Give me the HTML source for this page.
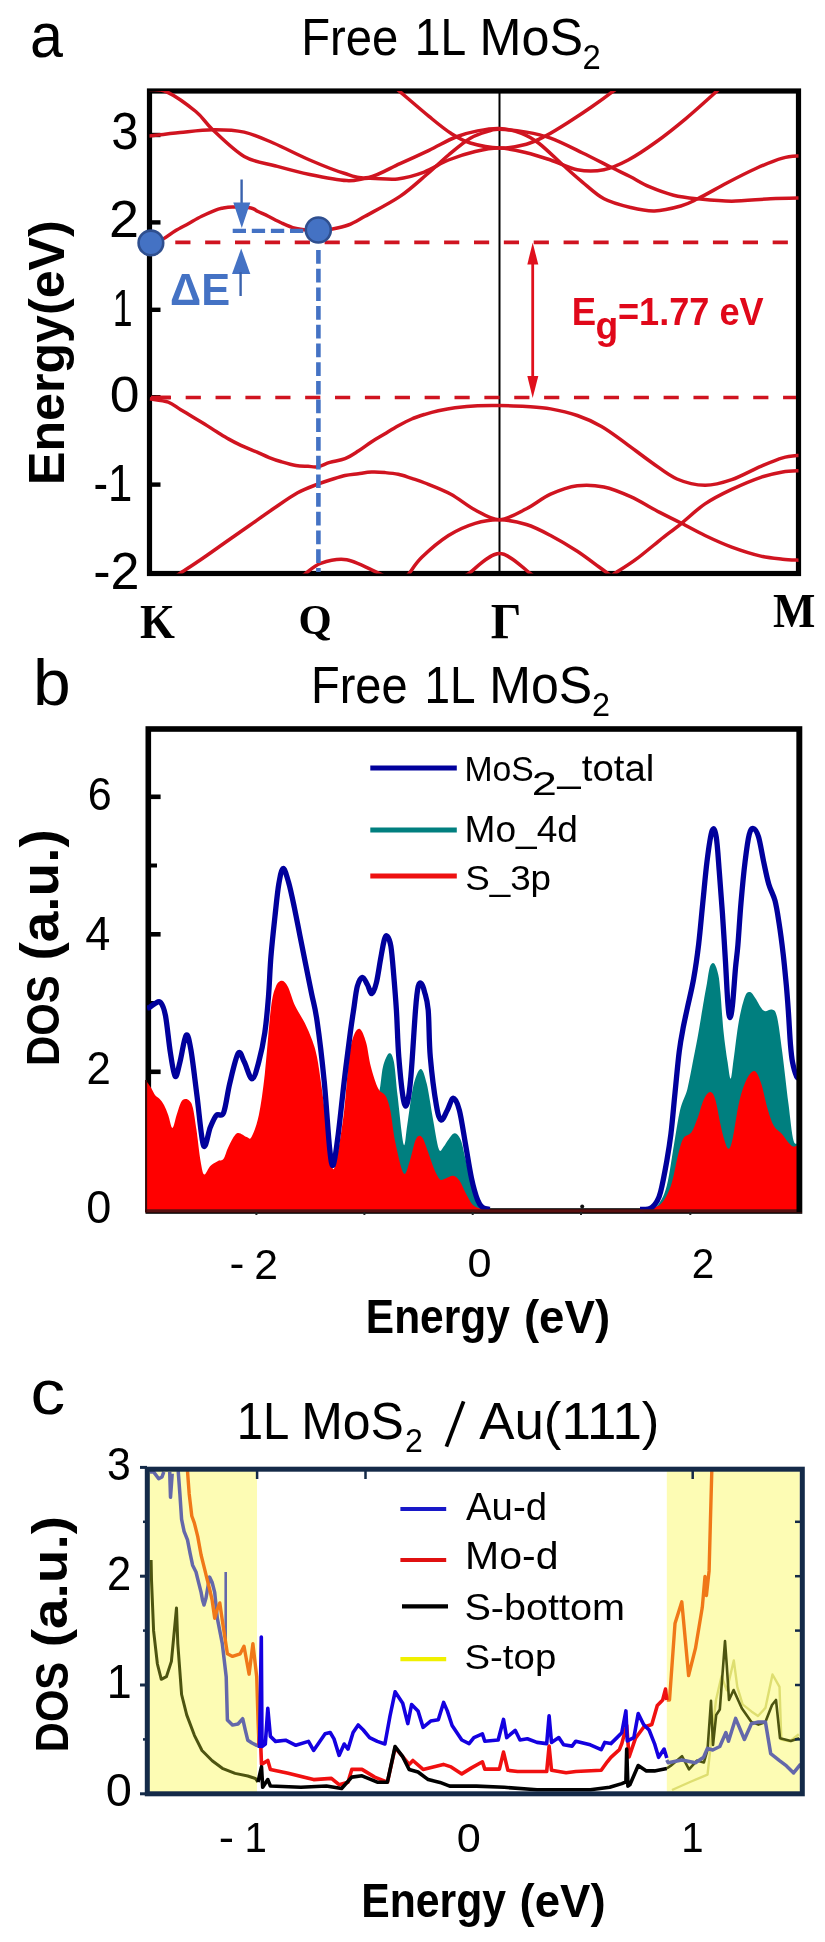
<!DOCTYPE html>
<html><head><meta charset="utf-8"><style>
html,body{margin:0;padding:0;background:#fff;width:825px;height:1942px;overflow:hidden}
svg{display:block;will-change:transform}
</style></head><body>
<svg width="825" height="1942" viewBox="0 0 825 1942">
<rect width="825" height="1942" fill="#fff"/>
<defs><clipPath id="ca"><rect x="152" y="93.5" width="644" height="477.5"/></clipPath><clipPath id="ca2"><rect x="149.5" y="91" width="649" height="482.5"/></clipPath><clipPath id="cb"><rect x="147" y="731" width="650" height="482"/></clipPath><clipPath id="cc"><rect x="149" y="1471" width="651" height="321"/></clipPath></defs>
<rect x="149.5" y="91" width="649" height="482.5" fill="none" stroke="#000" stroke-width="5.2"/>
<line x1="150" y1="135" x2="160.5" y2="135" stroke="#000" stroke-width="4.4"/>
<line x1="150" y1="222.4" x2="160.5" y2="222.4" stroke="#000" stroke-width="4.4"/>
<line x1="150" y1="309.8" x2="160.5" y2="309.8" stroke="#000" stroke-width="4.4"/>
<line x1="150" y1="397.2" x2="160.5" y2="397.2" stroke="#000" stroke-width="4.4"/>
<line x1="150" y1="484.6" x2="160.5" y2="484.6" stroke="#000" stroke-width="4.4"/>
<line x1="499.5" y1="92" x2="499.5" y2="573" stroke="#000" stroke-width="2"/>
<line x1="145.4" y1="242.4" x2="797" y2="242.4" stroke="#d01420" stroke-width="3.6" stroke-dasharray="15.2 14.67" clip-path="url(#ca)"/>
<line x1="155.8" y1="397.5" x2="797" y2="397.5" stroke="#d01420" stroke-width="3.6" stroke-dasharray="15.2 14.67" clip-path="url(#ca)"/>
<line x1="151" y1="397.5" x2="170.5" y2="397.5" stroke="#d01420" stroke-width="3.6"/>
<g fill="none" stroke="#d01420" stroke-width="3.5" stroke-linejoin="round" clip-path="url(#ca2)">
<path d="M151,242.4 C153,241.8 159,240.9 163,239 C167,237.1 170.8,233.6 175,231 C179.2,228.4 183.9,226.1 188.3,223.7 C192.8,221.2 197.2,218.5 201.7,216.3 C206.1,214.1 211.7,211.6 215,210.3 C218.3,209 218.8,208.9 221.7,208.3 C224.6,207.8 227.4,207.1 232.3,207 C237.2,206.9 246.7,207.2 251,208 C255.3,208.8 255.1,210.1 258,211.5 C260.9,212.9 264.4,214.4 268.3,216.3 C272.2,218.2 277.2,221 281.7,223 C286.1,225 290.6,227.1 295,228.3 C299.4,229.5 304.1,229.9 308,230.2 C311.9,230.5 314.2,230.5 318.3,230.3 C322.4,230.1 327.3,229.9 332.3,229 C337.3,228.1 342.9,227.1 348.3,225 C353.8,222.9 356.4,221.1 365,216.3 C373.6,211.5 389.7,203.4 400,196.4 C410.3,189.4 418.6,181.4 426.7,174.5 C434.8,167.6 441.2,161.1 448.5,155 C455.8,148.9 463.4,142.2 470.3,138.2 C477.2,134.2 484.8,132.4 489.7,130.9 C494.6,129.4 493.4,129 499.5,129.2 C505.6,129.4 517.9,130.6 526.4,132.1 C534.9,133.6 541.3,134.8 550.6,138.2 C559.9,141.6 572,147.8 582.1,152.7 C592.2,157.5 603.2,163.3 611.2,167.3 C619.2,171.3 623.7,173.3 630,176.5 C636.3,179.7 642,183.6 649.2,186.7 C656.5,189.8 665.4,193.2 673.5,195.2 C681.6,197.2 688,197.8 697.7,198.8 C707.4,199.8 719.6,201.2 731.7,201.2 C743.8,201.2 759.1,199.3 770.5,198.8 C781.9,198.3 795.1,198.1 800,198"/>
<path d="M148,136.2 C153.3,135.6 169.2,133.6 180,132.5 C190.8,131.4 202,129.8 212.7,129.7 C223.4,129.6 234.1,129.9 244.2,132.1 C254.3,134.3 262.4,138.3 273.3,143 C284.2,147.7 297.9,154.9 309.7,160 C321.5,165.1 334.4,170.4 344.2,173.3 C354,176.2 359.2,179.1 368.5,177.5 C377.8,175.9 389.9,168.1 400,163.6 C410.1,159.1 419.7,154.7 429,150.3 C438.3,145.9 447.7,140.2 455.8,137 C463.9,133.8 470.3,132.3 477.6,130.9 C484.9,129.5 492.2,128.1 499.5,128.5 C506.8,128.9 515,130.9 521.5,133.3 C528,135.7 531.6,137.8 538.5,143 C545.4,148.2 555.4,158.3 562.7,164.8 C570,171.3 575.2,176.1 582.1,181.8 C589,187.5 595.9,194.5 604,198.8 C612.1,203.1 622.2,205.5 630.6,207.5 C639,209.5 646.1,211.2 654.5,210.9 C662.9,210.7 673.6,208 680.8,206 C688,204 690,202.6 697.7,198.8 C705.4,195 717.1,188.1 726.8,183 C736.5,177.9 746.6,172.7 755.9,168.5 C765.2,164.3 775.2,160.2 782.6,158.1 C790,156 797.1,156.2 800,155.8"/>
<path d="M148,89.5 C151.1,89.9 158.7,88.1 166.7,91.8 C174.7,95.5 188.1,105.2 195.8,111.5 C203.5,117.8 204.6,122.2 212.7,129.7 C220.8,137.2 233.7,150.3 244.2,156.4 C254.7,162.5 264.9,163 275.8,166 C286.7,169 297.9,172.1 309.7,174.5 C321.5,176.9 336.9,180 346.7,180.6 C356.5,181.2 360,178.5 368.5,178.2 C377,177.9 388.3,179.9 397.6,178.9 C406.9,177.9 415.7,175.2 424.2,172.1 C432.7,168.9 440,163.4 448.5,160 C457,156.6 466.7,153.5 475.2,151.5 C483.7,149.5 491,147.8 499.5,148 C508,148.2 517.9,150.7 526.4,152.7 C534.9,154.7 542.1,157.2 550.6,160 C559.1,162.8 568.4,168.1 577.3,169.7 C586.2,171.3 595.4,171.3 603.9,169.7 C612.4,168.1 619.5,164.6 628.2,160 C636.9,155.4 646.4,148.9 656,142 C665.6,135.1 675.4,127.3 685.6,118.8 C695.8,110.3 711,96.4 717.1,90.9 C723.2,85.4 721.2,86.8 722,86"/>
<path d="M392,85 C392.9,85.8 391.4,84.5 397.6,89.7 C403.8,94.9 420.1,109.1 429,116.4 C437.9,123.7 444,128.9 450.9,133.3 C457.8,137.7 462.2,140.6 470.3,143 C478.4,145.4 490.1,147.8 499.5,148 C508.9,148.2 518.7,146.2 526.4,144.2 C534.1,142.2 538.5,139.6 545.8,135.8 C553.1,132 562.3,126.1 570,121.2 C577.7,116.3 584.5,111.8 591.8,106.7 C599.1,101.7 609.1,94.4 613.6,90.9 C618.1,87.5 618.1,86.8 619,86"/>
<path d="M149.7,398.8 C152.8,399.4 163.1,400.3 168.2,402.1 C173.3,403.9 176.3,407 180.3,409.4 C184.3,411.8 188.4,414.3 192.4,416.7 C196.4,419.1 200.4,421.4 204.5,423.9 C208.6,426.4 212.6,429.3 216.7,431.8 C220.8,434.3 224.8,436.9 228.8,439.1 C232.8,441.4 236.2,443.1 240.9,445.3 C245.6,447.5 252.4,450.1 257.1,452.1 C261.8,454.2 265.1,456 269.2,457.6 C273.2,459.2 276.9,460.5 281.4,461.8 C285.8,463.1 291.5,464.8 295.9,465.5 C300.3,466.2 304.4,466.1 308,466.3 C311.6,466.5 314.1,467.4 317.7,466.7 C321.3,466 325.2,463.8 329.8,462.4 C334.4,461 340.2,460.5 345,458.6 C349.8,456.7 353.9,453.8 358.3,451 C362.8,448.2 367.2,444.6 371.7,441.7 C376.1,438.8 380.6,436.4 385,433.7 C389.4,431 393.9,428.1 398.3,425.7 C402.8,423.2 407.2,420.9 411.7,419 C416.1,417.1 420.6,415.7 425,414.3 C429.4,412.9 433.3,411.8 438.3,410.7 C443.3,409.6 448.4,408.5 455,407.7 C461.6,406.9 470.2,406.1 477.6,405.8 C485,405.5 491.4,405.5 499.5,405.6 C507.6,405.7 517.9,405.9 526.4,406.5 C534.9,407.1 542.1,407.4 550.6,408.9 C559.1,410.4 568.8,412.6 577.3,415.5 C585.8,418.4 593.4,421.8 601.5,426.4 C609.6,431 617.4,437.2 625.8,443.3 C634.2,449.4 643.5,456.8 652,462.7 C660.5,468.6 668.2,475.2 677,479 C685.8,482.8 695.9,485.2 705,485.3 C714.1,485.4 722.4,482.9 731.7,479.7 C741,476.5 752.3,470 760.8,466.4 C769.3,462.8 776.1,459.8 782.6,457.9 C789.1,456 797.1,455.7 800,455.3"/>
<path d="M174,578 C174.8,577.4 174.4,577.2 178.8,574.2 C183.2,571.2 192.9,565 200.6,559.7 C208.3,554.5 216.7,548.4 224.8,542.7 C232.9,537.1 241,531.4 249.1,525.8 C257.2,520.1 265.2,514.3 273.3,508.8 C281.4,503.3 290.2,496.9 297.6,492.8 C305,488.7 312.3,486.3 317.7,484.2 C323.1,482.1 325.2,481.4 329.8,480 C334.4,478.6 340.2,476.6 345,475.5 C349.8,474.4 353.9,474.3 358.3,473.7 C362.8,473.1 367.2,472.3 371.7,472.1 C376.1,471.9 380.6,472.2 385,472.6 C389.4,473 393.9,473.4 398.3,474.3 C402.8,475.2 407.2,476.9 411.7,478.3 C416.1,479.8 418.5,480.4 425,483 C431.5,485.6 442.5,489.7 450.9,494.2 C459.3,498.7 467.1,505.8 475.2,510 C483.3,514.2 491,519.9 499.5,519.7 C508,519.5 517.9,513.1 526.4,508.8 C534.9,504.6 542.1,498 550.6,494.2 C559.1,490.4 568.4,487 577.3,485.8 C586.2,484.6 595,485.2 603.9,487 C612.8,488.8 621.3,492.5 630.6,496.7 C639.9,500.9 651.2,508 659.7,512.4 C668.2,516.8 674,519.4 681.5,523.3 C689,527.1 696.6,531.5 705,535.5 C713.4,539.5 722.4,543.7 731.7,547.1 C741,550.5 752.3,554.1 760.8,556.1 C769.3,558.1 776.1,558.5 782.6,559.2 C789.1,559.9 797.1,560 800,560.2"/>
<path d="M404,578 C404.8,577.4 405.5,577.7 408.5,574.2 C411.5,570.8 415.1,563.8 421.8,557.3 C428.5,550.8 439.6,541.2 448.5,535.5 C457.4,529.8 466.7,525.9 475.2,523.3 C483.7,520.7 491,519.5 499.5,519.7 C508,519.9 517.9,521.9 526.4,524.5 C534.9,527.1 542.1,531 550.6,535.5 C559.1,540 569.2,546 577.3,551.2 C585.4,556.5 593.9,563.2 599.1,567 C604.4,570.8 606.5,572.4 608.8,574.2 C611.1,576 612.3,577.4 613,578"/>
<path d="M609,578 C609.8,577.4 609.2,577.2 613.6,574.2 C618,571.2 627.8,565.4 635.5,559.7 C643.2,554.1 652,546.4 659.7,540.3 C667.4,534.2 674,529.4 681.5,523.3 C689,517.2 696.6,509.5 705,503.9 C713.4,498.2 722.4,493.8 731.7,489.4 C741,485 752.3,480.2 760.8,477.3 C769.3,474.4 776.1,473 782.6,471.9 C789.1,470.8 797.1,470.8 800,470.6"/>
<path d="M299,578 C300,577.4 301.2,576.7 304.8,574.2 C308.4,571.8 313.6,565.7 320.6,563.3 C327.6,560.9 336.7,557.9 346.7,559.7 C356.7,561.5 374.1,571.2 380.6,574.2 C387.2,577.2 385.1,577.4 386,578"/>
<path d="M462,578 C463,577.4 461.6,578.3 467.9,574.2 C474.1,570.1 488.9,553.6 499.5,553.6 C510.1,553.6 525.1,570.1 531.2,574.2 C537.3,578.3 535.2,577.4 536,578"/>
</g>
<line x1="318.4" y1="250" x2="318.4" y2="572" stroke="#4472c4" stroke-width="4.6" stroke-dasharray="13.7 5"/>
<line x1="232.7" y1="230.8" x2="306" y2="230.8" stroke="#4472c4" stroke-width="4.2" stroke-dasharray="13.3 5.8"/>
<line x1="241.6" y1="179.5" x2="241.6" y2="205" stroke="#3a62ad" stroke-width="2.4"/>
<path d="M233.3,202.4 L250.3,202.4 L241.8,228 Z" fill="#4472c4"/>
<path d="M232,274 L250.3,274 L241.2,248.5 Z" fill="#4472c4"/>
<line x1="240.6" y1="272" x2="240.6" y2="296" stroke="#3a62ad" stroke-width="2.4"/>
<circle cx="150.9" cy="242.9" r="12.3" fill="#4472c4" stroke="#2f4f8f" stroke-width="2.6"/>
<circle cx="318.3" cy="230" r="12.5" fill="#4472c4" stroke="#2f4f8f" stroke-width="2.6"/>
<line x1="532.7" y1="255" x2="532.7" y2="385" stroke="#e0101c" stroke-width="2.8"/>
<path d="M527.3,264.5 L538.3,264.5 L532.7,242.7 Z" fill="#e0101c"/>
<path d="M527.3,376 L538.3,376 L532.7,398 Z" fill="#e0101c"/>
<text transform="translate(30.07,56.77) scale(0.94,1)" font-family="Liberation Sans" font-weight="normal" font-size="63.01" fill="#000">a</text>
<text transform="translate(301.22,54.7) scale(0.91,1)" font-family="Liberation Sans" font-weight="normal" font-size="51.93" fill="#000">Free</text>
<text transform="translate(414.74,54.7) scale(0.89,1)" font-family="Liberation Sans" font-weight="normal" font-size="51.93" fill="#000">1L</text>
<text transform="translate(479.45,54.7) scale(0.97,1)" font-family="Liberation Sans" font-weight="normal" font-size="51.93" fill="#000">MoS</text>
<text transform="translate(582.46,68.5) scale(0.95,1)" font-family="Liberation Sans" font-weight="normal" font-size="34.55" fill="#000">2</text>
<text transform="translate(111.27,149.18) scale(0.95,1)" font-family="Liberation Sans" font-weight="normal" font-size="51.59" fill="#000">3</text>
<text transform="translate(109.1,237.3) scale(1.06,1)" font-family="Liberation Sans" font-weight="normal" font-size="50.9" fill="#000">2</text>
<text transform="translate(112.81,325.5) scale(0.69,1)" font-family="Liberation Sans" font-weight="normal" font-size="51.64" fill="#000">1</text>
<text transform="translate(109.66,412.2) scale(1.07,1)" font-family="Liberation Sans" font-weight="normal" font-size="50.04" fill="#000">0</text>
<text transform="translate(93.52,501) scale(0.84,1)" font-family="Liberation Sans" font-weight="normal" font-size="52.07" fill="#000">-1</text>
<text transform="translate(93.16,588.8) scale(1,1)" font-family="Liberation Sans" font-weight="normal" font-size="52.04" fill="#000">-2</text>
<text transform="translate(63.95,484.99) rotate(-90) scale(1,1)" font-family="Liberation Sans" font-weight="bold" font-size="50.13" fill="#000">Energy(eV)</text>
<text transform="translate(140.11,637.5) scale(0.93,1)" font-family="Liberation Serif" font-weight="bold" font-size="48.24" fill="#000">K</text>
<text transform="translate(298.46,634.49) scale(0.99,1)" font-family="Liberation Serif" font-weight="bold" font-size="43.15" fill="#000">Q</text>
<text transform="translate(490.66,638) scale(0.97,1)" font-family="Liberation Serif" font-weight="bold" font-size="49.62" fill="#000">Γ</text>
<text transform="translate(772.91,627.2) scale(0.94,1)" font-family="Liberation Serif" font-weight="bold" font-size="47.79" fill="#000">M</text>
<text transform="translate(170.07,304.5) scale(0.99,1)" font-family="Liberation Sans" font-weight="bold" font-size="43.78" fill="#4472c4">ΔE</text>
<text transform="translate(571.63,325.2) scale(0.92,1)" font-family="Liberation Sans" font-weight="bold" font-size="39.71" fill="#e0081a">E</text>
<text transform="translate(595.62,338.58) scale(0.94,1)" font-family="Liberation Sans" font-weight="bold" font-size="39.6" fill="#e0081a">g</text>
<text transform="translate(617.96,325.2) scale(0.91,1)" font-family="Liberation Sans" font-weight="bold" font-size="39.71" fill="#e0081a">=1.77 eV</text>
<rect x="148.3" y="729" width="651.2" height="482" fill="none" stroke="#000" stroke-width="5.6"/>
<line x1="150" y1="796.8" x2="160.6" y2="796.8" stroke="#000" stroke-width="4.6"/>
<line x1="150" y1="934.3" x2="160.6" y2="934.3" stroke="#000" stroke-width="4.6"/>
<line x1="150" y1="1071.8" x2="160.6" y2="1071.8" stroke="#000" stroke-width="4.6"/>
<line x1="150" y1="865.5" x2="157" y2="865.5" stroke="#000" stroke-width="4"/>
<line x1="150" y1="1003" x2="157" y2="1003" stroke="#000" stroke-width="4"/>
<g clip-path="url(#cb)">
<path d="M374,1100 C374.9,1098.5 377.9,1096.5 379.4,1090.9 C380.9,1085.4 381.4,1073 383,1066.7 C384.6,1060.4 387.3,1054.1 389.1,1053.3 C390.9,1052.5 392.5,1054.7 393.9,1061.8 C395.3,1068.9 396,1082.1 397.6,1095.8 C399.2,1109.5 402,1139.4 403.6,1144.2 C405.2,1149 405.7,1134.5 407.3,1124.8 C408.9,1115.1 411.1,1095.4 413.3,1086.1 C415.5,1076.8 418.4,1069.5 420.6,1069.1 C422.8,1068.7 424.7,1075.5 426.7,1083.6 C428.7,1091.7 430.7,1106.7 432.7,1117.6 C434.7,1128.5 437,1144.2 438.8,1149.1 C440.6,1153.9 442,1148.3 443.6,1146.7 C445.2,1145.1 446.7,1141.6 448.5,1139.4 C450.3,1137.2 452.5,1133.3 454.5,1133.3 C456.5,1133.3 458.8,1135.2 460.6,1139.4 C462.4,1143.7 463.7,1151.5 465.5,1158.8 C467.3,1166.1 469.5,1176.1 471.5,1183 C473.5,1189.9 475.8,1196.2 477.6,1200 C479.4,1203.8 480.8,1204.6 482.4,1206.1 C484,1207.6 486.2,1208.5 487,1209 L487,1211 L374,1211 Z" fill="#007f7f"/>
<path d="M650,1210 C651.4,1209 655.7,1208.3 658.5,1204.3 C661.3,1200.3 664.2,1195.8 666.8,1185.8 C669.4,1175.8 671.8,1157.2 674,1144.5 C676.2,1131.8 678,1118.8 680.2,1109.5 C682.4,1100.2 685.2,1097.5 687.4,1088.9 C689.6,1080.3 691.7,1067.6 693.6,1058 C695.5,1048.4 697,1040.8 698.7,1031.2 C700.4,1021.6 702.5,1008.3 703.9,1000.3 C705.3,992.3 706,988.6 707,983 C708,977.4 708.8,969.9 710,966.6 C711.2,963.4 712.8,962.1 714.2,963.5 C715.6,964.9 717.3,970 718.3,974.8 C719.3,979.5 719.5,982.6 720.4,992 C721.3,1001.4 722.3,1019.5 723.5,1031.2 C724.7,1042.9 726.4,1054.2 727.6,1062.1 C728.8,1070 729.7,1079.3 730.7,1078.6 C731.7,1077.9 732.4,1067.6 733.8,1058 C735.2,1048.4 737,1031.2 738.9,1020.9 C740.8,1010.6 743.2,1001 745.1,996.2 C747,991.4 748.5,991.8 750.2,992.1 C751.9,992.4 753.2,995.1 755.4,998.2 C757.6,1001.3 760.9,1008.7 763.6,1010.6 C766.4,1012.5 769.7,1008.6 771.9,1009.6 C774.1,1010.6 775.3,1009.8 777,1016.8 C778.7,1023.8 780.3,1037.4 782.2,1051.8 C784.1,1066.2 786.5,1088.5 788.4,1103.3 C790.3,1118.1 791.7,1133.9 793.5,1140.4 C795.3,1146.9 798.1,1142.2 799,1142.5 L799,1211 L650,1211 Z" fill="#007f7f"/>
<path d="M147,1082 C147.7,1083 149.8,1085.7 151.2,1088 C152.6,1090.3 154,1093.8 155.4,1095.6 C156.8,1097.4 158.3,1097.4 159.7,1099 C161.1,1100.6 162.6,1102.3 164,1105 C165.4,1107.7 166.8,1111.2 168.2,1115 C169.6,1118.8 171,1127.9 172.4,1127.9 C173.8,1127.9 175.2,1119.2 176.6,1115 C178,1110.8 179.5,1105.1 180.9,1102.4 C182.3,1099.7 183.7,1099.3 185.1,1099 C186.5,1098.7 188.1,1099.3 189.4,1100.7 C190.7,1102.1 191.6,1102.6 192.8,1107.5 C194,1112.4 195.2,1121 196.5,1130 C197.8,1139 199.3,1153.8 200.6,1161.2 C201.9,1168.6 202.6,1173.7 204.2,1174.5 C205.8,1175.3 208.1,1168.3 210.3,1166.1 C212.5,1163.9 215.4,1162.4 217.6,1161.2 C219.8,1160 221.8,1161.2 223.6,1158.8 C225.4,1156.4 226.3,1151 228.5,1146.7 C230.7,1142.5 234,1134.9 237,1133.3 C240,1131.7 244.3,1136.4 246.7,1137 C249.1,1137.6 249.5,1140.6 251.5,1137 C253.5,1133.4 256.6,1125.7 258.8,1115.2 C261,1104.7 262.8,1091.7 264.8,1073.9 C266.8,1056.1 269.1,1023 270.9,1008.5 C272.7,994 274,991.3 275.8,986.7 C277.6,982.1 279.8,980.8 281.8,980.8 C283.8,980.8 285.7,982.5 287.9,986.7 C290.1,990.9 292.4,1000.1 295.2,1006.1 C298,1012.1 302,1017.4 304.8,1023 C307.6,1028.7 310.1,1034.3 312.1,1040 C314.1,1045.7 315.4,1048.9 317,1057 C318.6,1065.1 320,1075.6 321.8,1088.5 C323.6,1101.4 326.1,1121.2 327.9,1134.5 C329.7,1147.8 331.1,1165.3 332.7,1168.5 C334.3,1171.7 335.7,1163.6 337.6,1153.9 C339.5,1144.2 342.3,1126.5 344.2,1110.3 C346.1,1094.1 347.5,1069.5 349.1,1057 C350.7,1044.5 352.1,1039.9 353.9,1035.2 C355.7,1030.5 358,1027.9 360,1029.1 C362,1030.3 364.3,1036.1 366.1,1042.4 C367.9,1048.7 368.9,1059 370.9,1066.7 C372.9,1074.4 375.8,1083.7 378.2,1088.5 C380.6,1093.3 383.5,1092.2 385.5,1095.8 C387.5,1099.4 388.7,1102.6 390.3,1110.3 C391.9,1118 393,1131.3 395.2,1141.8 C397.4,1152.3 401.2,1170.1 403.6,1173.3 C406,1176.5 407.7,1166.8 409.7,1161.2 C411.7,1155.6 413.8,1143.4 415.8,1139.4 C417.8,1135.4 419.8,1135 421.8,1137 C423.8,1139 425.9,1146.2 427.9,1151.5 C429.9,1156.8 431.9,1163.8 433.9,1168.5 C435.9,1173.2 438,1177.8 440,1179.4 C442,1181 443.9,1178.8 446.1,1178.2 C448.3,1177.6 451.1,1175.4 453.3,1175.8 C455.5,1176.2 457.4,1177.8 459.4,1180.6 C461.4,1183.4 463.3,1188.7 465.5,1192.7 C467.7,1196.7 470.3,1202.2 472.7,1204.8 C475.1,1207.4 477.8,1207.7 480,1208.5 C482.2,1209.3 485,1209.3 486,1209.5 L486,1211 L147,1211 Z" fill="#ff0000"/>
<path d="M645,1210 C645.5,1209.7 645.6,1209.4 648.2,1208.4 C650.8,1207.5 656.8,1208.1 660.6,1204.3 C664.4,1200.5 668,1194 670.9,1185.8 C673.8,1177.5 676,1162.7 678.1,1154.8 C680.2,1146.9 681.1,1142.2 683.3,1138.4 C685.5,1134.6 689.1,1135.6 691.5,1132.2 C693.9,1128.8 695.6,1123.3 697.7,1117.8 C699.8,1112.3 701.8,1103.5 703.9,1099.2 C706,1094.9 708.2,1092 710.1,1092 C712,1092 713.5,1093.9 715.2,1099.2 C716.9,1104.5 718.9,1117.1 720.4,1124 C721.9,1130.9 723.1,1136.3 724.5,1140.4 C725.9,1144.5 727.2,1149 728.6,1148.7 C730,1148.4 731,1146 732.7,1138.4 C734.4,1130.8 736.8,1112.6 738.9,1103.3 C741,1094 743,1087.8 745.1,1082.7 C747.2,1077.6 749.4,1074.1 751.3,1072.4 C753.2,1070.7 754.7,1070.3 756.4,1072.4 C758.1,1074.5 759.7,1078.6 761.6,1084.8 C763.5,1091 765.8,1102.6 767.8,1109.5 C769.8,1116.4 771.5,1121.9 773.9,1126 C776.3,1130.1 779.8,1131.5 782.2,1134.2 C784.6,1137 786.5,1140.4 788.4,1142.5 C790.3,1144.6 791.7,1146.3 793.5,1146.6 C795.3,1146.9 798.1,1144.8 799,1144.5 L799,1211 L645,1211 Z" fill="#ff0000"/>
<path d="M147,1008 C147.4,1007.9 148.4,1008 149.7,1007.3 C151,1006.5 153.2,1004.3 155,1003.5 C156.8,1002.7 158.8,1000.4 160.6,1002.4 C162.3,1004.4 163.9,1007.5 165.5,1015.8 C167.1,1024.1 168.7,1042 170.3,1052.1 C171.9,1062.2 173.6,1074.8 175.2,1076.4 C176.8,1078 178.2,1068.7 180,1061.8 C181.8,1054.9 184.3,1037.2 186.1,1035.2 C187.9,1033.2 189.1,1039.6 190.9,1049.7 C192.7,1059.8 194.9,1079.8 197,1095.8 C199.1,1111.8 201.3,1140.2 203.5,1145.5 C205.7,1150.8 208.2,1132.3 210.3,1127.3 C212.5,1122.2 214.2,1117.6 216.4,1115.2 C218.6,1112.8 221.4,1118 223.6,1112.7 C225.8,1107.4 227.3,1093.5 229.7,1083.6 C232.1,1073.7 235.8,1056.9 238.2,1053.3 C240.6,1049.7 241.9,1057.5 244.2,1061.8 C246.5,1066 249.6,1078.8 252,1078.8 C254.4,1078.8 256.7,1069.5 258.8,1061.8 C260.9,1054.1 263.2,1043.6 264.8,1032.7 C266.4,1021.8 267.5,1009.2 268.5,996.4 C269.5,983.6 269.9,969 271,955.8 C272.1,942.6 273.6,929 274.9,917 C276.2,905 277.4,892.1 278.8,884 C280.2,875.9 281.5,868.8 283.1,868.5 C284.7,868.2 286.6,875.5 288.5,882 C290.4,888.5 292.4,898.2 294.3,907.3 C296.2,916.4 298.2,926.7 300.1,936.4 C302,946.1 303.9,955.8 305.9,965.5 C307.8,975.2 309.9,985.4 311.8,994.6 C313.7,1003.8 314.9,1006.2 317,1020.6 C319.1,1035 322.1,1059.8 324.2,1081.2 C326.3,1102.6 328.2,1135.2 329.7,1149.1 C331.2,1163 331.9,1167.2 333.3,1164.8 C334.7,1162.4 336.4,1148.4 338.2,1134.5 C340,1120.6 342.2,1098.2 344.2,1081.2 C346.2,1064.2 348.7,1044.6 350.3,1032.7 C351.9,1020.8 352.4,1017.7 353.6,1010 C354.8,1002.3 355.8,991.9 357.3,986.4 C358.8,980.9 360.7,977.6 362.4,977.3 C364.1,977 365.7,981.8 367.3,984.5 C368.9,987.2 370.3,993.9 371.8,993.6 C373.3,993.3 374.9,988.8 376.4,982.7 C377.9,976.7 379.5,964.6 380.9,957.3 C382.2,950 383.4,942.6 384.5,939.1 C385.6,935.6 386.2,935.2 387.3,936.4 C388.4,937.6 389.8,940.2 390.9,946.4 C391.9,952.6 392.7,963 393.6,973.6 C394.5,984.2 395.5,996.1 396.4,1010 C397.3,1023.9 397.6,1041.9 398.8,1057 C400,1072.1 402.2,1092.9 403.6,1100.6 C405,1108.3 406.1,1107 407.3,1103 C408.5,1099 409.5,1091.9 410.9,1076.4 C412.3,1060.9 414.3,1025 415.5,1010 C416.7,995 417.2,990.8 418.2,986.4 C419.2,982 420.2,982.7 421.3,983.6 C422.4,984.5 423.4,987.4 424.5,991.8 C425.6,996.2 427.2,999.1 428.2,1010 C429.2,1020.9 428.9,1041.1 430.3,1057 C431.7,1072.9 434.6,1095 436.4,1105.5 C438.2,1116 439.4,1119.2 441.2,1120 C443,1120.8 445.3,1113.9 447.3,1110.3 C449.3,1106.7 451.3,1098.2 453.3,1098.2 C455.3,1098.2 457.4,1102.6 459.4,1110.3 C461.4,1118 463.5,1132.9 465.5,1144.2 C467.5,1155.5 469.5,1168.9 471.5,1178.2 C473.5,1187.5 475.8,1195.2 477.6,1200 C479.4,1204.8 480.4,1205.7 482.4,1207.3 C484.4,1208.9 488.5,1209.1 489.7,1209.4" fill="none" stroke="#00009c" stroke-width="5.3" stroke-linejoin="round"/>
<path d="M640,1209.5 C641.3,1209.5 645.9,1209.6 648,1209.2 C650.1,1208.8 651,1208.2 652.4,1207 C653.8,1205.8 655.1,1204.5 656.5,1202 C657.9,1199.5 658.9,1198.7 660.6,1191.9 C662.3,1185.1 665.1,1170.6 666.8,1161 C668.5,1151.4 669.5,1145.5 670.9,1134.2 C672.3,1122.9 673.6,1106.7 675,1093 C676.4,1079.3 677.8,1062.8 679.2,1051.8 C680.6,1040.8 681.9,1034.4 683.3,1027.1 C684.7,1019.8 685.7,1015.8 687.4,1007.8 C689.1,999.8 691.7,989.6 693.6,979 C695.5,968.4 697.2,956.6 698.7,943.9 C700.2,931.2 701.4,916.4 702.8,902.7 C704.2,889 705.5,873.5 707,861.5 C708.5,849.5 710.6,834.7 712.1,830.6 C713.6,826.5 715,829.9 716.2,836.8 C717.4,843.7 718.3,859.1 719.3,871.8 C720.3,884.5 721.4,898 722.4,913 C723.4,928 724.6,946.7 725.5,962 C726.4,977.3 727.2,995.8 728,1005 C728.8,1014.2 729.2,1017.5 730,1017.5 C730.8,1017.5 731.6,1013.2 732.5,1005 C733.4,996.8 734.6,978 735.5,968 C736.4,958 737,955.9 737.9,945 C738.8,934.1 739.8,916.6 741,902.7 C742.2,888.8 743.7,872.8 745.1,861.5 C746.5,850.2 747.8,840.2 749.2,834.7 C750.6,829.2 751.8,828.1 753.3,828.5 C754.8,828.9 756.8,831.3 758.5,836.8 C760.2,842.3 761.9,853.6 763.6,861.5 C765.3,869.4 766.9,877.7 768.8,884.2 C770.7,890.7 773.3,894.2 775,900.7 C776.7,907.2 777.7,914.4 779.1,923.3 C780.5,932.2 782,943.9 783.2,954.2 C784.4,964.5 785.4,975.5 786.3,985.1 C787.2,994.7 787.7,1002 788.4,1012 C789.1,1022 789.8,1036.7 790.5,1045 C791.2,1053.3 791.5,1056.8 792.5,1062.1 C793.5,1067.3 795.4,1073.8 796.6,1076.5 C797.9,1079.2 799.4,1077.8 800,1078" fill="none" stroke="#00009c" stroke-width="5.3" stroke-linejoin="round"/>
</g>
<line x1="145" y1="1210.8" x2="802" y2="1210.8" stroke="#5a1010" stroke-width="3.2"/>
<line x1="146.1" y1="1080" x2="146.1" y2="1212" stroke="#3a0a0a" stroke-width="2"/>
<line x1="799.2" y1="729" x2="799.2" y2="1212" stroke="#000" stroke-width="5.4"/>
<line x1="256.4" y1="1212" x2="256.4" y2="1215" stroke="#222" stroke-width="2"/>
<line x1="364.4" y1="1212" x2="364.4" y2="1215" stroke="#222" stroke-width="2"/>
<line x1="472.7" y1="1212" x2="472.7" y2="1215" stroke="#222" stroke-width="2"/>
<line x1="581" y1="1212" x2="581" y2="1215" stroke="#222" stroke-width="2"/>
<line x1="690.3" y1="1212" x2="690.3" y2="1215" stroke="#222" stroke-width="2"/>
<circle cx="582.2" cy="1206.5" r="2" fill="#111"/>
<line x1="370.3" y1="768" x2="456.8" y2="768" stroke="#00009c" stroke-width="5"/>
<line x1="370.3" y1="830" x2="456.8" y2="830" stroke="#007f7f" stroke-width="5"/>
<line x1="370.3" y1="876" x2="456.8" y2="876" stroke="#ee1111" stroke-width="5"/>
<text transform="translate(32.91,704.66) scale(1.06,1)" font-family="Liberation Sans" font-weight="normal" font-size="63.95" fill="#000">b</text>
<text transform="translate(311.02,703.3) scale(0.91,1)" font-family="Liberation Sans" font-weight="normal" font-size="51.64" fill="#000">Free</text>
<text transform="translate(424.54,703.3) scale(0.89,1)" font-family="Liberation Sans" font-weight="normal" font-size="51.64" fill="#000">1L</text>
<text transform="translate(489.26,703.3) scale(0.97,1)" font-family="Liberation Sans" font-weight="normal" font-size="51.64" fill="#000">MoS</text>
<text transform="translate(592.07,716.1) scale(0.95,1)" font-family="Liberation Sans" font-weight="normal" font-size="34.12" fill="#000">2</text>
<text transform="translate(464.5,780.94) scale(0.94,1)" font-family="Liberation Sans" font-weight="normal" font-size="35.9" fill="#000">MoS</text>
<text transform="translate(531.64,794.7) scale(1.37,1)" font-family="Liberation Sans" font-weight="normal" font-size="32.97" fill="#000">2</text>
<text transform="translate(557.62,781.02) scale(1.08,1)" font-family="Liberation Sans" font-weight="normal" font-size="38.4" fill="#000">_</text>
<text transform="translate(581.83,780.94) scale(1.06,1)" font-family="Liberation Sans" font-weight="normal" font-size="36.19" fill="#000">total</text>
<text transform="translate(464.55,841.5) scale(1,1)" font-family="Liberation Sans" font-weight="normal" font-size="37.09" fill="#000">Mo_4d</text>
<text transform="translate(465.14,889.65) scale(1.05,1)" font-family="Liberation Sans" font-weight="normal" font-size="35.05" fill="#000">S_3p</text>
<text transform="translate(87.85,809.84) scale(0.94,1)" font-family="Liberation Sans" font-weight="normal" font-size="45.94" fill="#000">6</text>
<text transform="translate(85.28,950) scale(0.95,1)" font-family="Liberation Sans" font-weight="normal" font-size="47.56" fill="#000">4</text>
<text transform="translate(86.51,1084.3) scale(0.94,1)" font-family="Liberation Sans" font-weight="normal" font-size="46.59" fill="#000">2</text>
<text transform="translate(86.21,1222.84) scale(0.98,1)" font-family="Liberation Sans" font-weight="normal" font-size="45.94" fill="#000">0</text>
<text transform="translate(59,1066.04) rotate(-90) scale(0.89,1)" font-family="Liberation Sans" font-weight="bold" font-size="47.13" fill="#000">DOS</text>
<text transform="translate(58.47,960.44) rotate(-90) scale(1.04,1)" font-family="Liberation Sans" font-weight="bold" font-size="52.79" fill="#000">(a.u.)</text>
<text transform="translate(229.48,1277.99) scale(1.05,1)" font-family="Liberation Sans" font-weight="normal" font-size="42.58" fill="#000">-</text>
<text transform="translate(254.16,1278.6) scale(0.99,1)" font-family="Liberation Sans" font-weight="normal" font-size="43.15" fill="#000">2</text>
<text transform="translate(467.47,1277.49) scale(1.05,1)" font-family="Liberation Sans" font-weight="normal" font-size="41.13" fill="#000">0</text>
<text transform="translate(691.87,1278.2) scale(0.97,1)" font-family="Liberation Sans" font-weight="normal" font-size="41.72" fill="#000">2</text>
<text transform="translate(365.84,1333.3) scale(0.89,1)" font-family="Liberation Sans" font-weight="bold" font-size="47.71" fill="#000">Energy</text>
<text transform="translate(523.93,1332.9) scale(0.98,1)" font-family="Liberation Sans" font-weight="bold" font-size="46.55" fill="#000">(eV)</text>
<rect x="149" y="1471" width="108" height="321" fill="#fdfcb4"/>
<rect x="666.8" y="1471" width="133" height="321" fill="#fdfcb4"/>
<g clip-path="url(#cc)" fill="none" stroke-linejoin="round">
<path d="M672,1790 L690,1782 L707.5,1774.7 L711,1743 L716,1700 L721.5,1676.2 L726.8,1690.3 L733.8,1660.4 L737.3,1686.8 L742.6,1704.4 L751.4,1711.4 L758,1716 L765.4,1707.9 L772.5,1674.5 L779.5,1686.8 L781.3,1739.5 L790,1741.3 L798.8,1734.3" stroke="#dede70" stroke-width="2.4"/>
<path d="M151.1,1560 L151.5,1580 L153.6,1630.9 L157.4,1664 L161.3,1679.3 L166.4,1676.7 L171.4,1661.4 L176.5,1608 L177.8,1643.6 L181.6,1694.5 L186.7,1714.9 L194.4,1735.3 L202,1750.5 L212.2,1760.7 L222.3,1768.3 L235.1,1773.4 L247.8,1776 L255.4,1778.5 L258,1782" stroke="#4d5410" stroke-width="3"/>
<path d="M666.8,1768.5 L670.5,1765.9 L682,1756.2 L689,1769.4 L696.9,1760.6 L703.9,1762.4 L707.5,1750 L711,1700.8 L713,1745 L716.2,1714.9 L719.8,1709.6 L725,1641 L726.8,1665.7 L729,1700 L733.6,1690 L741.8,1708.2 L751.4,1721.9 L758.4,1724.6 L765.4,1722 L772,1705 L776,1700 L780,1738.2 L790.9,1740.9 L799.1,1738.2" stroke="#4d5410" stroke-width="2.6"/>
<path d="M150,1472 L153.6,1471.9 L158.7,1478.7 L162,1477 L163.8,1471.9" stroke="#6468aa" stroke-width="3.5"/>
<path d="M169.7,1471.9 L170.5,1497.3 L172.2,1473.6" stroke="#6468aa" stroke-width="3.5"/>
<path d="M178.2,1471 L179.9,1494 L181.6,1519.4 L184.1,1531.3 L187.5,1539.8 L190.1,1553.3 L192.6,1565.2 L196,1572 L198.5,1582.2 L201.1,1592.4 L202.5,1600 L204,1605 L206,1598 L209.6,1577.1 L212.1,1582.2 L214.7,1592.4 L217.3,1618.2 L222.3,1643.6 L226.2,1676.7 L227.4,1720 L232.5,1725.1 L238,1724 L242.7,1718.7 L245.3,1730.2 L247.8,1740.3 L252,1743 L256.7,1745.4 L259,1746" stroke="#6468aa" stroke-width="3.5"/>
<path d="M225.7,1572 L225.7,1640" stroke="#6468aa" stroke-width="2.6"/>
<path d="M666.8,1760 L668.2,1762.7 L681.8,1760 L695.5,1762.7 L703.6,1757.3 L707.5,1748.3 L712.7,1750 L719.8,1746.5 L725.9,1732.5 L728.5,1741.3 L735.6,1718.4 L744.4,1739.5 L751.4,1723.7 L758.4,1721.9 L765.4,1721.9 L770.7,1753.6 L779.5,1760.6 L786.5,1765.9 L793.6,1772.9 L800.6,1764.1" stroke="#6468aa" stroke-width="3.5"/>
<path d="M187.5,1471 L189.2,1494 L191.8,1516 L194.3,1522.8 L197.7,1536.4 L201.1,1555 L204.5,1568.6 L207,1578.8 L209.6,1589 L212.1,1600 L214.7,1618.2 L217,1610 L219.8,1602.9 L223,1625 L227.4,1653.8 L232.5,1656.4 L240.2,1653.8 L244,1646.2 L249.1,1674.2 L252.9,1643.6 L256.7,1676.7 L258,1720 L259,1745" stroke="#f07818" stroke-width="3.4"/>
<path d="M666.8,1700 L669.5,1700 L675,1623.6 L681.8,1601.8 L688.6,1675.5 L695.5,1648.2 L702.3,1607.3 L705,1576.4 L706.4,1595.5 L709.1,1570.9 L710.4,1521.8 L711.8,1471" stroke="#f07818" stroke-width="3.4"/>
<path d="M259,1745 L260.2,1731.3 L261.5,1764.4 L267.8,1760.5 L270.4,1769.4 L288.2,1773.3 L313.6,1779.6 L331.4,1778.4 L339.1,1784.7 L348,1782.2 L351.8,1769.4 L362,1769.4 L374.7,1777.1 L387.4,1782.2 L395.1,1747.8 L402.7,1756.7 L409.1,1764.4 L412.9,1760.5 L423.1,1769.4 L443.4,1764.4 L451.1,1766.9 L461.8,1773.9 L471.5,1767.9 L482.4,1761.8 L484.8,1769.1 L499.4,1769.1 L503.5,1752.1 L507.9,1770.3 L517.6,1771.5 L546.7,1771.5 L549.1,1746.1 L551.5,1770.3 L566.1,1772.7 L575.8,1771.5 L601.2,1770.3 L607.3,1761.8 L610.9,1757.3 L619.4,1749.7 L621.8,1743.6 L626.7,1725.5 L629.1,1757 L635.5,1738.2 L643.6,1727.3 L651.8,1724.5 L657.3,1705.5 L662.7,1700 L665.5,1689.1 L666.8,1700" stroke="#f01010" stroke-width="3.6"/>
<path d="M258,1782 L261.5,1766.9 L262.7,1787.3 L267.8,1779.6 L270.4,1786 L300.9,1787.3 L326.4,1786 L341.6,1788.5 L351.8,1777.1 L362,1775.8 L377.3,1782.2 L387.4,1782.2 L395.1,1746.5 L402.7,1756.7 L409.1,1769.4 L418,1772 L428.2,1779.6 L440,1782.4 L449.7,1786.1 L476.4,1786.1 L504.2,1787.3 L537,1789.7 L590.3,1789.7 L609.7,1787.3 L621.8,1783.6 L625.9,1781.8 L626.7,1749.1 L627.9,1786.1 L630,1784.5 L638.2,1765.5 L646.4,1770.9 L654.5,1770.9 L666.8,1768.5" stroke="#000000" stroke-width="3.6"/>
<path d="M259.5,1748 L261.3,1637 L262,1746.5 L265.3,1744 L267.8,1708.4 L270.4,1736.4 L275.5,1741.4 L285.6,1740.2 L295.8,1745.3 L308.5,1741.4 L313.6,1750.4 L325.1,1733.8 L330.2,1732.5 L334,1738.9 L339.1,1755.4 L344.2,1744 L348,1749.1 L353.1,1732.5 L358.2,1724.9 L363.3,1730 L369.6,1737.6 L377.3,1741.4 L384.9,1744 L390,1716 L395.1,1691.8 L402.7,1703.3 L407.8,1723.6 L411.6,1704.5 L418,1710.9 L423.1,1727.4 L430.7,1721.1 L438.3,1719.8 L443.6,1702.4 L447.3,1710.9 L452.1,1725.5 L461.8,1740 L469.1,1743.6 L473.9,1737.6 L482.4,1733.9 L484.8,1741.2 L498.2,1740 L503.5,1719.4 L506.7,1737.6 L515.2,1730.3 L520,1740 L527.3,1738.8 L537,1742.4 L546.7,1743.6 L549.1,1715.8 L551.5,1742.4 L558.8,1737.6 L563.6,1744.8 L572.1,1746.1 L575.8,1741.2 L590.3,1744.8 L601.2,1749.7 L604.8,1742.4 L610.9,1743.6 L617,1737.6 L621.8,1732.7 L625.9,1710.9 L627.3,1740.9 L633.9,1737.6 L638.2,1713.6 L643.6,1724.5 L649.1,1730 L654.5,1743.6 L658.6,1757.3 L664.1,1749.1 L666.8,1758" stroke="#1400e0" stroke-width="3.6"/>
</g>
<rect x="147.3" y="1469.2" width="655" height="324.6" fill="none" stroke="#142a48" stroke-width="5"/>
<line x1="140" y1="1467.4" x2="147" y2="1467.4" stroke="#142a48" stroke-width="3"/>
<line x1="140" y1="1576.2" x2="147" y2="1576.2" stroke="#142a48" stroke-width="3"/>
<line x1="140" y1="1685" x2="147" y2="1685" stroke="#142a48" stroke-width="3"/>
<line x1="140" y1="1793.8" x2="147" y2="1793.8" stroke="#142a48" stroke-width="3"/>
<line x1="143" y1="1521.8" x2="147" y2="1521.8" stroke="#142a48" stroke-width="2.5"/>
<line x1="143" y1="1630.6" x2="147" y2="1630.6" stroke="#142a48" stroke-width="2.5"/>
<line x1="143" y1="1739.4" x2="147" y2="1739.4" stroke="#142a48" stroke-width="2.5"/>
<line x1="795" y1="1521.8" x2="800" y2="1521.8" stroke="#142a48" stroke-width="2.5"/>
<line x1="795" y1="1576.2" x2="800" y2="1576.2" stroke="#142a48" stroke-width="2.5"/>
<line x1="795" y1="1630.6" x2="800" y2="1630.6" stroke="#142a48" stroke-width="2.5"/>
<line x1="795" y1="1685" x2="800" y2="1685" stroke="#142a48" stroke-width="2.5"/>
<line x1="795" y1="1739.4" x2="800" y2="1739.4" stroke="#142a48" stroke-width="2.5"/>
<line x1="257.1" y1="1471" x2="257.1" y2="1479" stroke="#142a48" stroke-width="2.5"/>
<line x1="365.5" y1="1471" x2="365.5" y2="1479" stroke="#142a48" stroke-width="2.5"/>
<line x1="692.7" y1="1471" x2="692.7" y2="1479" stroke="#142a48" stroke-width="2.5"/>
<line x1="400.4" y1="1509" x2="446.2" y2="1509" stroke="#1818c8" stroke-width="4.2"/>
<line x1="400.4" y1="1560" x2="446.2" y2="1560" stroke="#e01010" stroke-width="4.2"/>
<line x1="402" y1="1606.3" x2="448" y2="1606.3" stroke="#000" stroke-width="4.2"/>
<line x1="400.4" y1="1659.2" x2="446.2" y2="1659.2" stroke="#f0f000" stroke-width="4.2"/>
<text transform="translate(30.56,1414.36) scale(1.09,1)" font-family="Liberation Sans" font-weight="normal" font-size="63.56" fill="#000">c</text>
<text transform="translate(236.65,1439.1) scale(0.92,1)" font-family="Liberation Sans" font-weight="normal" font-size="51.49" fill="#000">1L</text>
<text transform="translate(301.17,1439.1) scale(0.97,1)" font-family="Liberation Sans" font-weight="normal" font-size="51.49" fill="#000">MoS</text>
<text transform="translate(405.1,1452.3) scale(0.96,1)" font-family="Liberation Sans" font-weight="normal" font-size="33.41" fill="#000">2</text>
<line x1="446.4" y1="1446.6" x2="463.6" y2="1401.4" stroke="#000" stroke-width="3.8"/>
<text transform="translate(479.17,1439) scale(1.03,1)" font-family="Liberation Sans" font-weight="normal" font-size="51.35" fill="#000">Au(111)</text>
<text transform="translate(466,1520.2) scale(1.01,1)" font-family="Liberation Sans" font-weight="normal" font-size="37.96" fill="#000">Au-d</text>
<text transform="translate(465.12,1568.6) scale(1.06,1)" font-family="Liberation Sans" font-weight="normal" font-size="38.69" fill="#000">Mo-d</text>
<text transform="translate(464.41,1619.64) scale(1.09,1)" font-family="Liberation Sans" font-weight="normal" font-size="36.33" fill="#000">S-bottom</text>
<text transform="translate(464.47,1669.15) scale(1.1,1)" font-family="Liberation Sans" font-weight="normal" font-size="34.91" fill="#000">S-top</text>
<text transform="translate(107.09,1480.04) scale(0.93,1)" font-family="Liberation Sans" font-weight="normal" font-size="45.94" fill="#000">3</text>
<text transform="translate(107.01,1590.3) scale(0.92,1)" font-family="Liberation Sans" font-weight="normal" font-size="47.31" fill="#000">2</text>
<text transform="translate(106.65,1698.2) scale(0.94,1)" font-family="Liberation Sans" font-weight="normal" font-size="47.71" fill="#000">1</text>
<text transform="translate(105.82,1805.53) scale(1.01,1)" font-family="Liberation Sans" font-weight="normal" font-size="46.5" fill="#000">0</text>
<text transform="translate(67.8,1752.2) rotate(-90) scale(0.89,1)" font-family="Liberation Sans" font-weight="bold" font-size="46.84" fill="#000">DOS</text>
<text transform="translate(67.31,1647.24) rotate(-90) scale(1.11,1)" font-family="Liberation Sans" font-weight="bold" font-size="49.5" fill="#000">(a.u.)</text>
<text transform="translate(218.72,1851.99) scale(1.08,1)" font-family="Liberation Sans" font-weight="normal" font-size="42.58" fill="#000">-</text>
<text transform="translate(244.38,1852.1) scale(0.93,1)" font-family="Liberation Sans" font-weight="normal" font-size="43.35" fill="#000">1</text>
<text transform="translate(456.87,1851.59) scale(1.05,1)" font-family="Liberation Sans" font-weight="normal" font-size="41.13" fill="#000">0</text>
<text transform="translate(681.2,1851.7) scale(0.95,1)" font-family="Liberation Sans" font-weight="normal" font-size="42.33" fill="#000">1</text>
<text transform="translate(361.22,1916.5) scale(0.89,1)" font-family="Liberation Sans" font-weight="bold" font-size="48" fill="#000">Energy</text>
<text transform="translate(519.52,1916.7) scale(0.97,1)" font-family="Liberation Sans" font-weight="bold" font-size="46.98" fill="#000">(eV)</text>
</svg></body></html>
